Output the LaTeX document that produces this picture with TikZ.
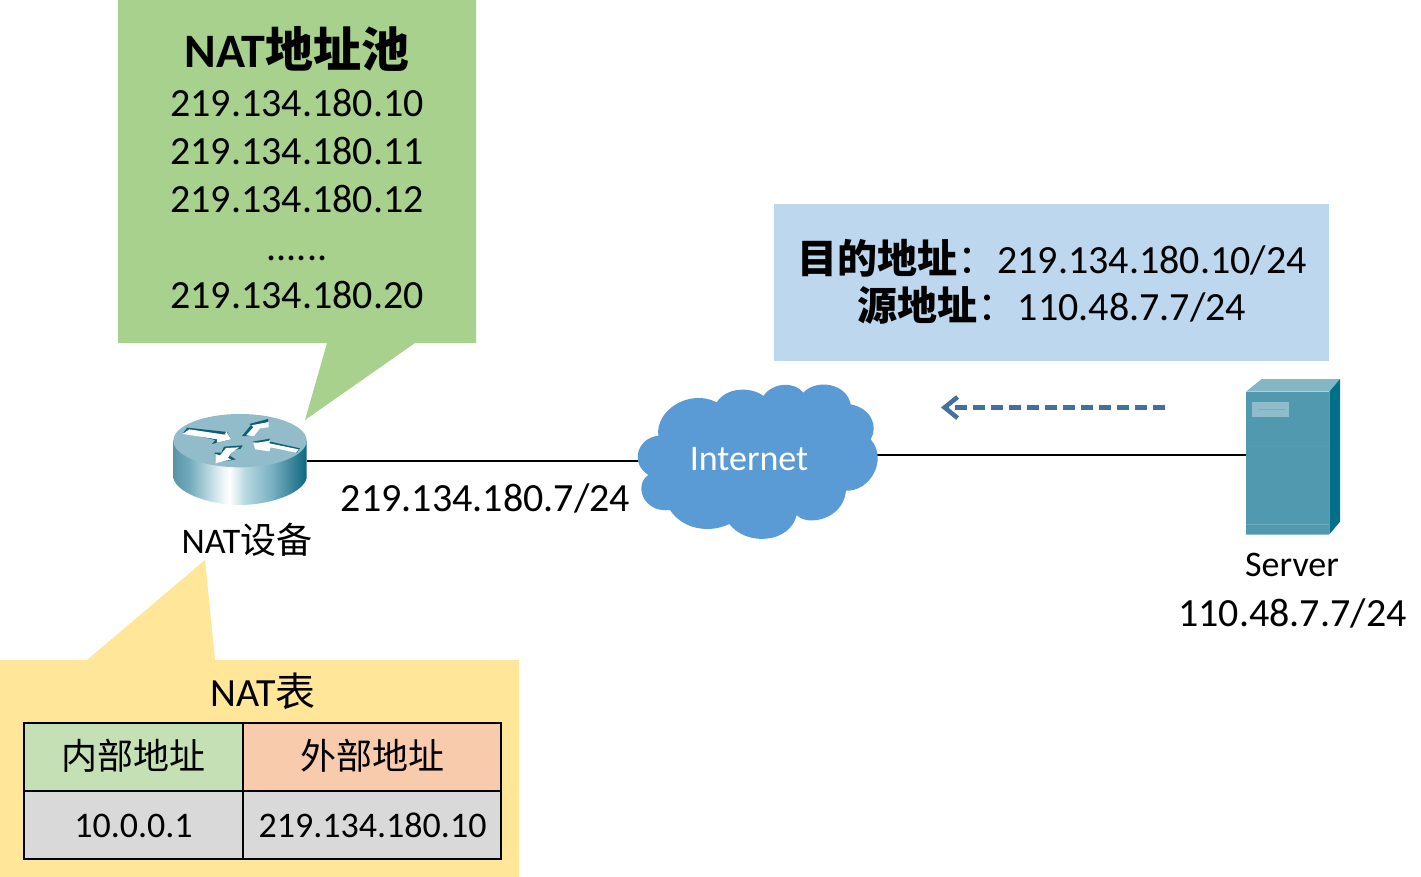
\documentclass[tikz,border=0pt]{standalone}
\usepackage{fontspec}
\setmainfont{Carlito}
\newfontfamily\cjk{Noto Sans CJK SC}
\newcommand{\zh}[1]{{\cjk #1}}
\newcommand{\fs}[1]{\fontsize{#1}{#1}\selectfont}
\usetikzlibrary{arrows.meta}
\definecolor{poolgreen}{HTML}{A9D18E}
\definecolor{hdrblue}{HTML}{BDD7EE}
\definecolor{tblyellow}{HTML}{FFE699}
\definecolor{cellgreen}{HTML}{C5E0B4}
\definecolor{cellorange}{HTML}{F8CBAD}
\definecolor{cellgray}{HTML}{D9D9D9}
\definecolor{cloudblue}{HTML}{5B9BD5}
\definecolor{arrowblue}{HTML}{41719C}
\definecolor{srvfront}{HTML}{5199AE}
\definecolor{srvtop}{HTML}{85B6C6}
\definecolor{srvside}{HTML}{00708A}
\definecolor{srvpanel}{HTML}{8FBCCB}
\definecolor{rtop}{HTML}{93BCCB}
\definecolor{rdark}{HTML}{0B5F75}
\pgfdeclarehorizontalshading{routerside}{100bp}{
  rgb(0bp)=(0.35,0.58,0.65);
  rgb(25bp)=(0.35,0.58,0.65);
  rgb(31bp)=(0.45,0.67,0.74);
  rgb(43bp)=(0.90,0.95,0.96);
  rgb(46bp)=(1,1,1);
  rgb(52bp)=(0.72,0.85,0.88);
  rgb(62bp)=(0.47,0.69,0.76);
  rgb(69bp)=(0.25,0.53,0.62);
  rgb(75bp)=(0.04,0.41,0.50);
  rgb(100bp)=(0.04,0.41,0.50)}
\tikzset{
  x=1pt,y=-1pt,
  txt/.style={inner sep=0pt,anchor=base,text=black},
  cell/.style={draw=black,line width=2pt},
  link/.style={draw=black,line width=2pt},
  ghost/.style={inner sep=0pt,draw=none,fill=none},
  rarrow/.style={fill=white},
}
\begin{document}
\begin{tikzpicture}
\useasboundingbox (0,0) rectangle (1421,877);
\fill[white] (0,0) rectangle (1421,877);
% callouts
\fill[poolgreen] (118,0) -- (476,0) -- (476,343) -- (415,343) -- (305,420) -- (327,343) -- (118,343) -- cycle;
\fill[tblyellow] (0,660) -- (87,660) -- (205,560) -- (215,660) -- (519,660) -- (519,877) -- (0,877) -- cycle;
\fill[hdrblue] (774,204) rectangle (1329,361);
% anchors
\node[ghost,minimum width=134pt,minimum height=91pt] (router) at (240,461) {};
\node[ghost,minimum width=94pt,minimum height=152pt] (server) at (1293,455) {};
\coordinate (cloudW) at (640,461);
\coordinate (cloudE) at (876,455);
\coordinate (dashA) at (1165,407.5);
\coordinate (dashB) at (941,407.5);
% links
\draw[link] (router.east) -- (cloudW);
\draw[link] (cloudE) -- (server.west);
\draw[arrowblue,line width=4.5pt,dash pattern=on 12.3pt off 5.7pt,-{Straight Barb[length=13pt,width=21pt,line width=4.5pt]}] (dashA) -- (dashB);
% router
\begin{scope}[shift={(150pt,-390pt)},x=0.33333pt,y=-0.33333pt]
  \shade[shading=routerside] (70,152) -- (70,265) .. controls (85,315) and (190,345) .. (270,345) .. controls (350,345) and (455,315) .. (470,265) -- (470,152) -- cycle;
  \fill[rtop] (270,152) ellipse[x radius=200,y radius=80];
  % arrows
  \fill[rdark] (112,113) -- (232,126) -- (243,148) -- (186,162) -- (196,150) -- (100,128) -- cycle;
  \fill[rarrow] (98,132) -- (118,118) -- (224,134) -- (229,124) -- (243,148) -- (200,158) -- (202,148) -- cycle;
  \fill[rdark] (276,138) -- (303,105) -- (298,102) -- (354,87) -- (354,97) -- (320,105) -- (296,138) -- cycle;
  \fill[rarrow] (288,136) -- (310,112) -- (304,106) -- (356,96) -- (356,112) -- (330,115) -- (312,138) -- cycle;
  \fill[rdark] (308,155) -- (360,146) -- (356,154) -- (450,175) -- (440,188) -- (360,165) -- cycle;
  \fill[rarrow] (310,160) -- (360,152) -- (358,160) -- (446,178) -- (438,188) -- (362,172) -- (358,184) -- (316,178) -- cycle;
  \fill[rdark] (222,170) -- (278,166) -- (272,176) -- (246,182) -- (240,198) -- (258,208) -- (196,218) -- (194,188) -- (214,188) -- cycle;
  \fill[rarrow] (196,192) -- (210,196) -- (228,174) -- (268,172) -- (244,188) -- (234,204) -- (244,208) -- (196,220) -- cycle;
\end{scope}
% server
\begin{scope}[shift={(1220pt,-365pt)},x=0.33333pt,y=-0.33333pt]
  \fill[srvfront] (78,80) rectangle (328,508);
  \fill[srvtop] (78,80) -- (125,42) -- (360,42) -- (328,80) -- cycle;
  \fill[srvside] (328,80) -- (360,42) -- (360,470) -- (328,508) -- cycle;
  \fill[srvpanel] (97,112) rectangle (208,157);
  \draw[srvfront!40!srvpanel,line width=0.6pt] (115,133) -- (196,133);
  \draw[srvfront!92!srvpanel,line width=0.5pt] (78,245) -- (328,245);
  \draw[srvfront!50!srvpanel,line width=0.8pt] (78,478) -- (328,478);
  \draw[srvpanel,line width=1pt] (78,507) -- (328,507);
\end{scope}
% cloud
\begin{scope}[shift={(620pt,-370pt)},x=0.33333pt,y=-0.33333pt]
  \fill[cloudblue] (85,315) .. controls (30,280) and (50,205) .. (115,197)
    .. controls (105,120) and (210,55) .. (290,97)
    .. controls (320,50) and (395,50) .. (430,78)
    .. controls (460,35) and (525,35) .. (550,68)
    .. controls (590,25) and (680,40) .. (692,103)
    .. controls (755,115) and (775,170) .. (752,208)
    .. controls (805,270) and (750,365) .. (678,362)
    .. controls (670,450) and (560,470) .. (530,435)
    .. controls (510,520) and (380,530) .. (328,462)
    .. controls (270,490) and (190,480) .. (150,420)
    .. controls (70,430) and (40,345) .. (85,315) -- cycle;
\end{scope}
% texts
\node[txt,text=white] (inet) at (749,470) {\fs{36}Internet};
\node[txt] (pooltitle) at (297,68) {\fs{48}\bfseries NAT\zh{地址池}};
\node[txt] (p1) at (297,117) {\fs{40}219.134.180.10};
\node[txt] (p2) at (297,165) {\fs{40}219.134.180.11};
\node[txt] (p3) at (297,213) {\fs{40}219.134.180.12};
\node[txt] (p4) at (297,261) {\fs{40}......};
\node[txt] (p5) at (297,308.5) {\fs{40}219.134.180.20};
\node[txt] (d1) at (1052,273) {\fs{40}\zh{\bfseries 目的地址}\zh{：}219.134.180.10/24};
\node[txt] (d2) at (1052,320.5) {\fs{40}\zh{\bfseries 源地址}\zh{：}110.48.7.7/24};
\node[txt] (wanip) at (485.5,511) {\fs{40}219.134.180.7/24};
\node[txt] (rname) at (247,553.5) {\fs{36}NAT\zh{设备}};
\node[txt] (sname) at (1292,576) {\fs{36}Server};
\node[txt] (sip) at (1292.5,626) {\fs{40}110.48.7.7/24};
\node[txt] (tname) at (263,706) {\fs{40}NAT\zh{表}};
% table
\filldraw[cell,fill=cellgreen] (24,723) rectangle (243,791);
\filldraw[cell,fill=cellorange] (243,723) rectangle (501,791);
\filldraw[cell,fill=cellgray] (24,791) rectangle (243,859);
\filldraw[cell,fill=cellgray] (243,791) rectangle (501,859);
\node[txt] (h1) at (133.5,769.5) {\fs{36}\zh{内部地址}};
\node[txt] (h2) at (372,769.5) {\fs{36}\zh{外部地址}};
\node[txt] (c1) at (133.5,837.5) {\fs{36}10.0.0.1};
\node[txt] (c2) at (372.5,837.5) {\fs{36}219.134.180.10};
\end{tikzpicture}
\end{document}
